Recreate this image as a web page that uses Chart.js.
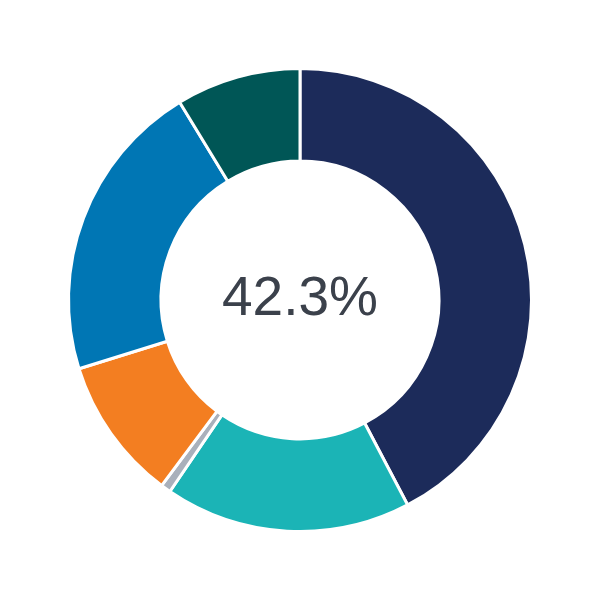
<!DOCTYPE html>
<html lang="en">
<head>
    <meta charset="UTF-8">
    <title>Doughnut</title>
    <style>
        html, body { margin: 0; padding: 0; background: #ffffff; }
        #wrap { width: 600px; height: 600px; }
    </style>
</head>
<body>
    <div id="wrap"><canvas id="donut" width="600" height="600"></canvas></div>

    <script src="https://cdn.jsdelivr.net/npm/chart.js"></script>
    <script>
        const labels = ['Navy', 'Teal', 'Gray', 'Orange', 'Blue', 'Dark teal'];
        const values = [42.3, 17.2, 0.7, 10.0, 21.1, 8.7];
        const colors = ['#1c2b5a', '#1bb4b6', '#a9b0bb', '#f37e21', '#0076b4', '#005656'];
        const centerLabel = '42.3%';

        const centerText = {
            id: 'centerText',
            afterDraw(chart) {
                const ctx = chart.ctx;
                const meta = chart.getDatasetMeta(0).data[0];
                ctx.save();
                ctx.font = '55px "Liberation Sans", Arial, sans-serif';
                ctx.fillStyle = '#3b414b';
                ctx.textAlign = 'center';
                ctx.textBaseline = 'middle';
                ctx.fillText(centerLabel, meta.x, meta.y);
                ctx.restore();
            }
        };

        new Chart(document.getElementById('donut'), {
            type: 'doughnut',
            data: {
                labels: labels,
                datasets: [{
                    data: values,
                    backgroundColor: colors,
                    borderColor: '#ffffff',
                    borderWidth: 3
                }]
            },
            options: {
                responsive: false,
                animation: false,
                cutout: '60%',
                layout: { padding: 67 },
                plugins: {
                    legend: { display: false },
                    tooltip: { enabled: false }
                }
            },
            plugins: [centerText]
        });
    </script>
</body>
</html>
